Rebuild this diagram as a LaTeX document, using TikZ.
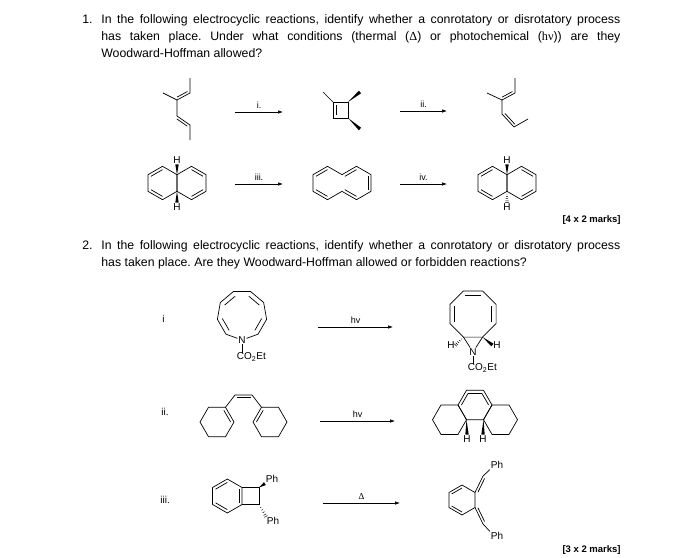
\documentclass[tikz,border=0pt]{standalone}
\usepackage{fontspec}
\setmainfont{Liberation Sans}
\newfontfamily\serifgr{Liberation Serif}
\usetikzlibrary{calc,arrows.meta}
\frenchspacing
\newcommand\dbin[3]{\draw ($(#1)!0.2!(#3)$) -- ($(#2)!0.2!(#3)$);}
\newcommand\dbo[3]{\draw[shorten <=1.5pt,shorten >=1.5pt] ($(#1)!#3!90:(#2)$) -- ($(#2)!#3!-90:(#1)$);}
\newcommand\wedgeb[2]{\fill (#1) -- ($(#2)!1.7pt!90:(#1)$) -- ($(#2)!1.7pt!-90:(#1)$) -- cycle;}
\newcommand\hashb[2]{\foreach \t in {0.25,0.45,0.65,0.85,1.0}{\path ($(#1)!\t!(#2)$) coordinate (hm); \pgfmathsetmacro\dd{\t*1.8}\draw[line width=0.5pt] ($(hm)!\dd pt!90:(#1)$) -- ($(hm)!\dd pt!-90:(#1)$);}}
\begin{document}
\begin{tikzpicture}[x=1pt,y=-1pt,line width=0.7pt,
  qtext/.style={anchor=base west,inner sep=0,font=\fontsize{12.3}{14}\selectfont},
  lab/.style={inner sep=0.5pt,font=\fontsize{9}{10}\selectfont},
  atom/.style={inner sep=0.6pt,font=\fontsize{10}{11}\selectfont},
  rxn/.style={-{Latex[length=5pt,width=3.5pt]},line width=0.6pt}]
\useasboundingbox (0,0) rectangle (700,557);
% ---------- texts
\node[qtext] (q1n) at (82,23) {1.};
\node[qtext] (q1a) at (101,23) {\makebox[519pt][s]{In the following electrocyclic reactions, identify whether a conrotatory or disrotatory process}};
\node[qtext] (q1b) at (101,40) {\makebox[519pt][s]{has taken place. Under what conditions (thermal ({\serifgr Δ}) or photochemical ({\serifgr hν})) are they}};
\node[qtext] (q1c) at (101,57) {Woodward-Hoffman allowed?};
\node[qtext] (q2n) at (82,249) {2.};
\node[qtext] (q2a) at (101,249) {\makebox[519pt][s]{In the following electrocyclic reactions, identify whether a conrotatory or disrotatory process}};
\node[qtext] (q2b) at (101,266) {has taken place. Are they Woodward-Hoffman allowed or forbidden reactions?};
\node[anchor=base east,inner sep=0,font=\bfseries\fontsize{9.5}{11}\selectfont] (m1) at (621,222) {[4 x 2 marks]};
\node[anchor=base east,inner sep=0,font=\bfseries\fontsize{9.5}{11}\selectfont] (m2) at (621,552) {[3 x 2 marks]};
% ---------- row 1 : diene A
\coordinate (A1) at (190,78); \coordinate (A2) at (190,93); \coordinate (A3) at (177,100);
\coordinate (A0) at (163,93); \coordinate (A4) at (177,116); \coordinate (A5) at (190,125); \coordinate (A6) at (190,140);
\draw (A1) -- (A2) -- (A3) -- (A0); \draw (A3) -- (A4) -- (A5) -- (A6);
\dbo{A3}{A2}{2.5pt} \dbo{A4}{A5}{-2.5pt}
\draw[rxn] (235,112) -- node[lab,above=3pt] (l1) {i.} (283,112);
% cyclobutene B
\coordinate (B1) at (333,102); \coordinate (B2) at (348,102); \coordinate (B3) at (348,118); \coordinate (B4) at (333,118);
\coordinate (B0) at (323,92); \coordinate (Bw1) at (360,92); \coordinate (Bw2) at (360,129);
\draw (B0) -- (B1); \draw (B1) -- (B2) -- (B3) -- (B4) -- cycle;
\draw ($(B1)!0.2!(B3)$) -- ($(B4)!0.2!(B2)$);
\wedgeb{B2}{Bw1} \wedgeb{B3}{Bw2}
\draw[rxn] (400,111) -- node[lab,above=3pt] (l2) {ii.} (447,111);
% diene C
\coordinate (C1) at (515,78); \coordinate (C2) at (515,93); \coordinate (C3) at (502,100);
\coordinate (C0) at (487,93); \coordinate (C4) at (502,114); \coordinate (C5) at (514,127); \coordinate (C6) at (528,119);
\draw (C1) -- (C2) -- (C3) -- (C0); \draw (C3) -- (C4) -- (C5) -- (C6);
\dbo{C3}{C2}{2.5pt} \dbo{C4}{C5}{2.5pt}
% ---------- row 2
\foreach \n/\cx in {L/162.5,R/191.5}{
  \coordinate (D\n c) at (\cx,183);
  \foreach \k in {0,...,5}{\coordinate (D\n\k) at ($(D\n c)+(30+60*\k:16.7)$);}}
\draw (DL0) -- (DL1) -- (DL2) -- (DL3) -- (DL4) -- (DL5) -- cycle;
\draw (DR0) -- (DR1) -- (DR2) -- (DR3) -- (DR4) -- (DR5) -- cycle;
\dbin{DL3}{DL4}{DLc} \dbin{DL1}{DL2}{DLc} \dbin{DR4}{DR5}{DRc} \dbin{DR0}{DR1}{DRc}
\node[atom] (H1) at (177,160) {H}; \node[atom] (H2) at (177,207) {H};
\wedgeb{DL5}{H1.south} \wedgeb{DL0}{H2.north}
\draw[rxn] (235,184) -- node[lab,above=3pt] (l3) {iii.} (283,184);
% cyclodecapentaene
\foreach \n/\cx in {L/327.5,R/356.5}{
  \coordinate (E\n c) at (\cx,183);
  \foreach \k in {0,...,5}{\coordinate (E\n\k) at ($(E\n c)+(30+60*\k:16.7)$);}}
\draw (EL5) -- (EL4) -- (EL3) -- (EL2) -- (EL1) -- (EL0) -- (ER1) -- (ER0) -- (ER5) -- (ER4) -- cycle;
\dbin{EL4}{EL3}{ELc} \dbin{EL2}{EL1}{ELc} \dbin{EL0}{ER1}{ERc} \dbin{ER0}{ER5}{ERc} \dbin{ER4}{EL5}{ERc}
\draw[rxn] (400,184) -- node[lab,above=3pt] (l4) {iv.} (447,184);
\foreach \n/\cx in {L/492.5,R/521.5}{
  \coordinate (F\n c) at (\cx,183);
  \foreach \k in {0,...,5}{\coordinate (F\n\k) at ($(F\n c)+(30+60*\k:16.7)$);}}
\draw (FL0) -- (FL1) -- (FL2) -- (FL3) -- (FL4) -- (FL5) -- cycle;
\draw (FR0) -- (FR1) -- (FR2) -- (FR3) -- (FR4) -- (FR5) -- cycle;
\dbin{FL3}{FL4}{FLc} \dbin{FL1}{FL2}{FLc} \dbin{FR4}{FR5}{FRc} \dbin{FR0}{FR1}{FRc}
\node[atom] (H3) at (507,160) {H}; \node[atom] (H4) at (507,207) {H};
\wedgeb{FL5}{H3.south} \hashb{FL0}{H4.north}
% ---------- section 2 row i
\node[qtext,font=\fontsize{10}{11}\selectfont] (ri) at (162,322) {i};
\coordinate (Gc) at (242,315);
\foreach \k in {0,...,8}{\coordinate (G\k) at ($(Gc)+(90+40*\k:25)$);}
\node[atom] (N1) at (G0) {N};
\draw (N1) -- (G1) -- (G2) -- (G3) -- (G4) -- (G5) -- (G6) -- (G7) -- (G8) -- (N1);
\dbin{G1}{G2}{Gc} \dbin{G3}{G4}{Gc} \dbin{G5}{G6}{Gc} \dbin{G7}{G8}{Gc}
\node[atom,anchor=north west] (E1) at (236,352) {CO\textsubscript{2}Et};
\draw (N1.south) -- (242,353);
\draw[rxn] (318,327) -- node[lab,above=3pt] (l5) {hv} (393,327);
\coordinate (Kc) at (473,314);
\foreach \k in {0,...,7}{\coordinate (K\k) at ($(Kc)+(67.5+45*\k:25)$);}
\draw (K0) -- (K1) -- (K2) -- (K3) -- (K4) -- (K5) -- (K6) -- (K7) -- cycle;
\dbin{K2}{K3}{Kc} \dbin{K4}{K5}{Kc} \dbin{K6}{K7}{Kc}
\node[atom] (N2) at (473,352) {N};
\draw (K0) -- (N2) -- (K1);
\node[atom] (H5) at (451,345) {H}; \node[atom] (H6) at (497,345) {H};
\hashb{K1}{H5.east} \wedgeb{K0}{H6.west}
\node[atom,anchor=north west] (E2) at (467,363) {CO\textsubscript{2}Et};
\draw (N2.south) -- (473,364);
% ---------- row ii
\node[qtext,font=\fontsize{10}{11}\selectfont] (rii) at (161,415) {ii.};
\foreach \n/\cx in {L/217,R/270}{
  \coordinate (P\n c) at (\cx,422);
  \foreach \k in {0,...,5}{\coordinate (P\n\k) at ($(P\n c)+(60*\k:17)$);}}
\draw (PL0) -- (PL1) -- (PL2) -- (PL3) -- (PL4) -- (PL5) -- cycle;
\draw (PR0) -- (PR1) -- (PR2) -- (PR3) -- (PR4) -- (PR5) -- cycle;
\dbin{PL5}{PL0}{PLc} \dbin{PR3}{PR4}{PRc}
\coordinate (V1) at (235,395); \coordinate (V2) at (252,395);
\draw (PL5) -- (V1) -- (V2) -- (PR4);
\dbo{V1}{V2}{-2.5pt}
\draw[rxn] (320,421) -- node[lab,above=3pt] (l6) {hv} (395,421);
\coordinate (Qc) at (475,405);
\foreach \k in {0,...,5}{\coordinate (Q\k) at ($(Qc)+(60*\k:17)$);}
\foreach \n/\cx in {L/449.5,R/500.5}{
  \coordinate (Q\n c) at (\cx,419.7);
  \foreach \k in {0,...,5}{\coordinate (Q\n\k) at ($(Q\n c)+(60*\k:17)$);}}
\draw (Q0) -- (Q1) -- (Q2) -- (Q3) -- (Q4) -- (Q5) -- cycle;
\draw (QL0) -- (QL1) -- (QL2) -- (QL3) -- (QL4) -- (QL5) -- cycle;
\draw (QR0) -- (QR1) -- (QR2) -- (QR3) -- (QR4) -- (QR5) -- cycle;
\dbin{Q4}{Q5}{Qc} \dbin{Q3}{Q4}{Qc} \dbin{Q5}{Q0}{Qc}
\node[atom] (H7) at (467,439) {H}; \node[atom] (H8) at (483,439) {H};
\wedgeb{Q2}{H7.north} \wedgeb{Q1}{H8.north}
% ---------- row iii
\node[qtext,font=\fontsize{10}{11}\selectfont] (riii) at (160,503) {iii.};
\coordinate (Sc) at (227.3,496);
\foreach \k in {0,...,5}{\coordinate (S\k) at ($(Sc)+(-30+60*\k:17)$);}
\draw (S0) -- (S1) -- (S2) -- (S3) -- (S4) -- (S5) -- cycle;
\dbin{S0}{S1}{Sc} \dbin{S2}{S3}{Sc} \dbin{S4}{S5}{Sc}
\coordinate (T1) at (259,487.5); \coordinate (T2) at (259,504.5);
\draw (S0) -- (T1) -- (T2) -- (S1);
\node[atom] (Ph1) at (272,479) {Ph}; \node[atom] (Ph2) at (273,521) {Ph};
\wedgeb{T1}{Ph1.south west} \hashb{T2}{Ph2.north west}
\draw[rxn] (323,503) -- node[lab,above=3pt,font=\serifgr\fontsize{9}{10}\selectfont] (l7) {Δ} (400,503);
\coordinate (Uc) at (462,500);
\foreach \k in {0,...,5}{\coordinate (U\k) at ($(Uc)+(-30+60*\k:15)$);}
\draw (U0) -- (U1) -- (U2) -- (U3) -- (U4) -- (U5) -- cycle;
\dbin{U4}{U5}{Uc} \dbin{U2}{U3}{Uc}
\coordinate (W1) at (483,476); \coordinate (W2) at (483,524);
\node[atom] (Ph3) at (497,465) {Ph}; \node[atom] (Ph4) at (497,536) {Ph};
\draw (U0) -- (W1) -- (Ph3.south west); \draw (U1) -- (W2) -- (Ph4.north west);
\dbo{U0}{W1}{-2.5pt} \dbo{U1}{W2}{2.5pt}
\end{tikzpicture}
\end{document}
